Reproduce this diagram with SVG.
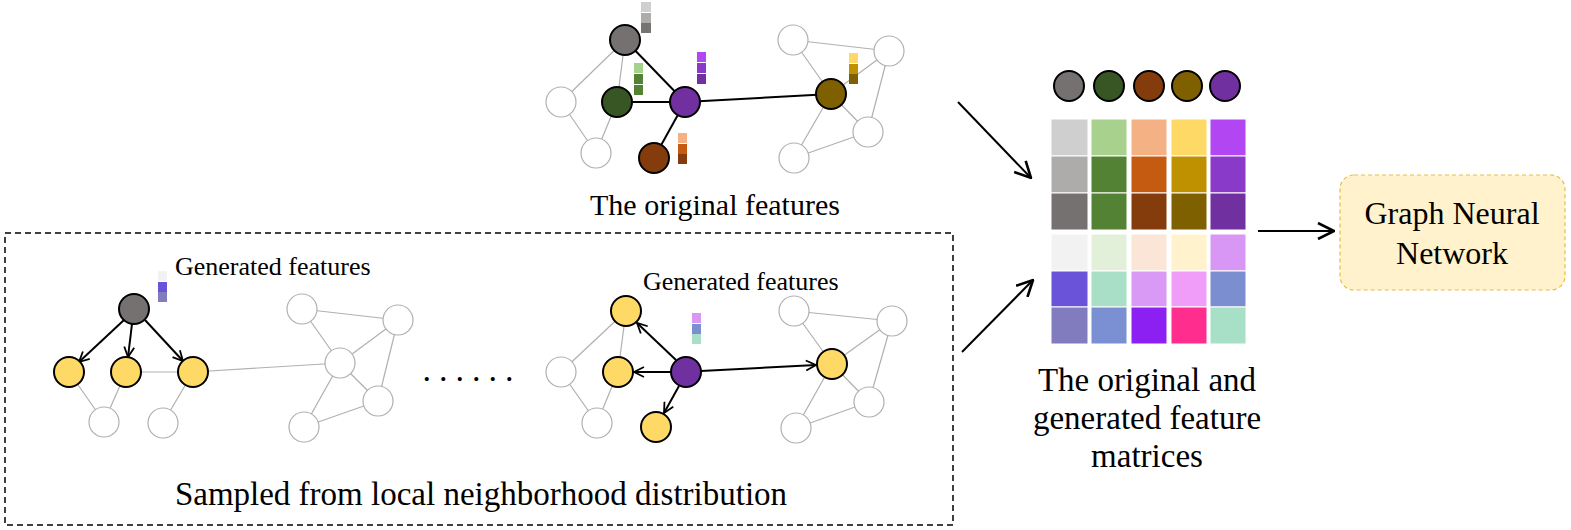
<svg xmlns="http://www.w3.org/2000/svg" width="1571" height="530" viewBox="0 0 1571 530">
<style>
.e{stroke:#b0b0b0;stroke-width:1.2;fill:none}
.b{stroke:#000;stroke-width:2;fill:none}
.a{stroke:#000;stroke-width:2;fill:none;marker-end:url(#ah)}
.n{stroke:#000;stroke-width:2}
.w{fill:#fff;stroke:#b0b0b0;stroke-width:1.2}
.y{fill:#ffd966;stroke:#000;stroke-width:2}
.t{font-family:"Liberation Serif",serif;fill:#000}
.c{stroke:#fff;stroke-width:1}
</style>
<defs>
<marker id="ah" viewBox="0 0 12 12" refX="11" refY="6" markerWidth="12" markerHeight="12" markerUnits="userSpaceOnUse" orient="auto"><path d="M1,1 L11,6 L1,11" fill="none" stroke="#000" stroke-width="1.8"/></marker>
<marker id="ab" viewBox="0 0 18 18" refX="17" refY="9" markerWidth="18" markerHeight="18" markerUnits="userSpaceOnUse" orient="auto"><path d="M1,1 L17,9 L1,17" fill="none" stroke="#000" stroke-width="2.6"/></marker>
</defs>
<g id="connectors">
<line class="e" x1="625" y1="40" x2="561" y2="102"/>
<line class="e" x1="625" y1="40" x2="617" y2="102"/>
<line class="e" x1="561" y1="102" x2="596" y2="153"/>
<line class="e" x1="596" y1="153" x2="617" y2="102"/>
<line class="b" x1="625" y1="40" x2="685" y2="102"/>
<line class="b" x1="617" y1="102" x2="685" y2="102"/>
<line class="b" x1="685" y1="102" x2="654" y2="158"/>
<line class="b" x1="685" y1="102" x2="831" y2="94"/>
<line class="e" x1="793" y1="40" x2="889" y2="51"/>
<line class="e" x1="793" y1="40" x2="831" y2="94"/>
<line class="e" x1="831" y1="94" x2="889" y2="51"/>
<line class="e" x1="889" y1="51" x2="868" y2="132"/>
<line class="e" x1="831" y1="94" x2="868" y2="132"/>
<line class="e" x1="831" y1="94" x2="794" y2="158"/>
<line class="e" x1="794" y1="158" x2="868" y2="132"/>
<line class="e" x1="69" y1="372" x2="104" y2="422"/>
<line class="e" x1="104" y1="422" x2="126" y2="372"/>
<line class="e" x1="126" y1="372" x2="193" y2="372"/>
<line class="e" x1="193" y1="372" x2="163" y2="423"/>
<line class="e" x1="193" y1="372" x2="340" y2="363"/>
<line class="e" x1="302" y1="309" x2="398" y2="320"/>
<line class="e" x1="302" y1="309" x2="340" y2="363"/>
<line class="e" x1="340" y1="363" x2="398" y2="320"/>
<line class="e" x1="398" y1="320" x2="378" y2="401"/>
<line class="e" x1="340" y1="363" x2="378" y2="401"/>
<line class="e" x1="340" y1="363" x2="304" y2="427"/>
<line class="e" x1="304" y1="427" x2="378" y2="401"/>
<line class="a" x1="124" y1="320" x2="79" y2="362"/>
<line class="a" x1="132" y1="324" x2="128" y2="357"/>
<line class="a" x1="145" y1="320" x2="183" y2="361"/>
<line class="e" x1="561" y1="372" x2="626" y2="311"/>
<line class="e" x1="561" y1="372" x2="597" y2="423"/>
<line class="e" x1="597" y1="423" x2="618" y2="372"/>
<line class="e" x1="626" y1="311" x2="618" y2="372"/>
<line class="e" x1="794" y1="311" x2="892" y2="321"/>
<line class="e" x1="794" y1="311" x2="832" y2="364"/>
<line class="e" x1="832" y1="364" x2="892" y2="321"/>
<line class="e" x1="892" y1="321" x2="869" y2="402"/>
<line class="e" x1="832" y1="364" x2="869" y2="402"/>
<line class="e" x1="832" y1="364" x2="796" y2="428"/>
<line class="e" x1="796" y1="428" x2="869" y2="402"/>
<line class="a" x1="676" y1="360" x2="637" y2="323"/>
<line class="a" x1="671" y1="372" x2="634" y2="372"/>
<line class="a" x1="679" y1="386" x2="664" y2="413"/>
<line class="a" x1="701" y1="371" x2="816" y2="365"/>
<line class="b" x1="958" y1="102" x2="1031" y2="178" marker-end="url(#ab)"/>
<line class="b" x1="962" y1="352" x2="1033" y2="280" marker-end="url(#ab)"/>
<line class="b" x1="1258" y1="231" x2="1334" y2="231" marker-end="url(#ab)"/>
</g>
<g id="top-graph">
<circle class="w" cx="561" cy="102" r="15"/>
<circle class="w" cx="596" cy="153" r="15"/>
<circle class="w" cx="793" cy="40" r="15"/>
<circle class="w" cx="889" cy="51" r="15"/>
<circle class="w" cx="868" cy="132" r="15"/>
<circle class="w" cx="794" cy="158" r="15"/>
<circle class="n" cx="625" cy="40" r="15" fill="#767171"/>
<circle class="n" cx="617" cy="102" r="15" fill="#375623"/>
<circle class="n" cx="685" cy="102" r="15" fill="#7030a0"/>
<circle class="n" cx="654" cy="158" r="15" fill="#843c0c"/>
<circle class="n" cx="831" cy="94" r="15" fill="#7f6000"/>
<rect x="641" y="2" width="10" height="10" fill="#d0cfcf"/><rect x="641" y="13" width="10" height="10" fill="#aeabab"/><rect x="641" y="23" width="10" height="10" fill="#767373"/>
<rect x="634" y="63" width="9" height="10" fill="#a8d08d"/><rect x="634" y="74" width="9" height="10" fill="#548235"/><rect x="634" y="85" width="9" height="10" fill="#548235"/>
<rect x="697" y="52" width="9" height="10" fill="#b146f2"/><rect x="697" y="63" width="9" height="10" fill="#8a3ac8"/><rect x="697" y="74" width="9" height="10" fill="#7030a0"/>
<rect x="678" y="133" width="9" height="10" fill="#f4b183"/><rect x="678" y="144" width="9" height="10" fill="#c55a11"/><rect x="678" y="154" width="9" height="10" fill="#843c0c"/>
<rect x="849" y="53" width="9" height="10" fill="#ffd966"/><rect x="849" y="64" width="9" height="10" fill="#bf9000"/><rect x="849" y="74" width="9" height="10" fill="#7f6000"/>
<text class="t" x="715" y="215" font-size="30" text-anchor="middle">The original features</text>
</g>
<g id="sampled-box">
<rect x="5" y="233" width="948" height="292" fill="none" stroke="#000" stroke-width="1.5" stroke-dasharray="6,4"/>
<text class="t" x="481" y="505" font-size="33" text-anchor="middle">Sampled from local neighborhood distribution</text>
<text class="t" x="472" y="381" font-size="34" text-anchor="middle" letter-spacing="8">......</text>
</g>
<g id="graph-left">
<circle class="w" cx="104" cy="422" r="15"/>
<circle class="w" cx="163" cy="423" r="15"/>
<circle class="w" cx="302" cy="309" r="15"/>
<circle class="w" cx="398" cy="320" r="15"/>
<circle class="w" cx="340" cy="363" r="15"/>
<circle class="w" cx="378" cy="401" r="15"/>
<circle class="w" cx="304" cy="427" r="15"/>
<circle class="n" cx="134" cy="309" r="15" fill="#767171"/>
<circle class="y" cx="69" cy="372" r="15"/>
<circle class="y" cx="126" cy="372" r="15"/>
<circle class="y" cx="193" cy="372" r="15"/>
<rect x="158" y="271" width="9" height="10" fill="#f2f2f2"/><rect x="158" y="282" width="9" height="10" fill="#6a53d8"/><rect x="158" y="292" width="9" height="10" fill="#817cbd"/>
<text class="t" x="175" y="275" font-size="26">Generated features</text>
</g>
<g id="graph-right">
<circle class="w" cx="561" cy="372" r="15"/>
<circle class="w" cx="597" cy="423" r="15"/>
<circle class="w" cx="794" cy="311" r="15"/>
<circle class="w" cx="892" cy="321" r="15"/>
<circle class="w" cx="869" cy="402" r="15"/>
<circle class="w" cx="796" cy="428" r="15"/>
<circle class="n" cx="686" cy="372" r="15" fill="#7030a0"/>
<circle class="y" cx="626" cy="311" r="15"/>
<circle class="y" cx="618" cy="372" r="15"/>
<circle class="y" cx="656" cy="427" r="15"/>
<circle class="y" cx="832" cy="364" r="15"/>
<rect x="692" y="313" width="9" height="10" fill="#d896f5"/><rect x="692" y="324" width="9" height="10" fill="#7b8fd0"/><rect x="692" y="334" width="9" height="10" fill="#a8dfc7"/>
<text class="t" x="643" y="290" font-size="26">Generated features</text>
</g>
<g id="matrix">
<circle class="n" cx="1069" cy="86" r="15" fill="#767171"/>
<circle class="n" cx="1109" cy="86" r="15" fill="#375623"/>
<circle class="n" cx="1149" cy="86" r="15" fill="#843c0c"/>
<circle class="n" cx="1187" cy="86" r="15" fill="#7f6000"/>
<circle class="n" cx="1225" cy="86" r="15" fill="#7030a0"/>
<g class="c">
<rect x="1051" y="119" width="37" height="37" fill="#d0cfcf"/><rect x="1091" y="119" width="36" height="37" fill="#a9d18e"/><rect x="1131" y="119" width="36" height="37" fill="#f4b183"/><rect x="1171" y="119" width="36" height="37" fill="#ffd966"/><rect x="1210" y="119" width="36" height="37" fill="#b146f2"/>
<rect x="1051" y="156" width="37" height="37" fill="#aeabab"/><rect x="1091" y="156" width="36" height="37" fill="#548235"/><rect x="1131" y="156" width="36" height="37" fill="#c55a11"/><rect x="1171" y="156" width="36" height="37" fill="#bf9000"/><rect x="1210" y="156" width="36" height="37" fill="#8a3ac8"/>
<rect x="1051" y="193" width="37" height="37" fill="#767171"/><rect x="1091" y="193" width="36" height="37" fill="#548235"/><rect x="1131" y="193" width="36" height="37" fill="#843c0c"/><rect x="1171" y="193" width="36" height="37" fill="#7f6000"/><rect x="1210" y="193" width="36" height="37" fill="#7030a0"/>
<rect x="1051" y="234" width="37" height="37" fill="#f2f2f2"/><rect x="1091" y="234" width="36" height="37" fill="#e2f0d9"/><rect x="1131" y="234" width="36" height="37" fill="#fbe5d6"/><rect x="1171" y="234" width="36" height="37" fill="#fff2cc"/><rect x="1210" y="234" width="36" height="37" fill="#d896f5"/>
<rect x="1051" y="271" width="37" height="36" fill="#6a53d8"/><rect x="1091" y="271" width="36" height="36" fill="#a9dfc7"/><rect x="1131" y="271" width="36" height="36" fill="#d89af5"/><rect x="1171" y="271" width="36" height="36" fill="#f09df9"/><rect x="1210" y="271" width="36" height="36" fill="#7b8fd0"/>
<rect x="1051" y="307" width="37" height="37" fill="#817cbd"/><rect x="1091" y="307" width="36" height="37" fill="#7b8fd3"/><rect x="1131" y="307" width="36" height="37" fill="#8c1ff2"/><rect x="1171" y="307" width="36" height="37" fill="#ff2d8d"/><rect x="1210" y="307" width="36" height="37" fill="#a8dfc7"/>
</g>
<text class="t" font-size="33" text-anchor="middle"><tspan x="1147" y="391">The original and</tspan><tspan x="1147" y="429">generated feature</tspan><tspan x="1147" y="467">matrices</tspan></text>
</g>
<g id="gnn">
<rect x="1340" y="175" width="225" height="115" rx="14" fill="#fff2cc" stroke="#e6c040" stroke-width="1.2" stroke-dasharray="4,3"/>
<text class="t" font-size="32" text-anchor="middle"><tspan x="1452" y="224">Graph Neural</tspan><tspan x="1452" y="264">Network</tspan></text>
</g>
</svg>
